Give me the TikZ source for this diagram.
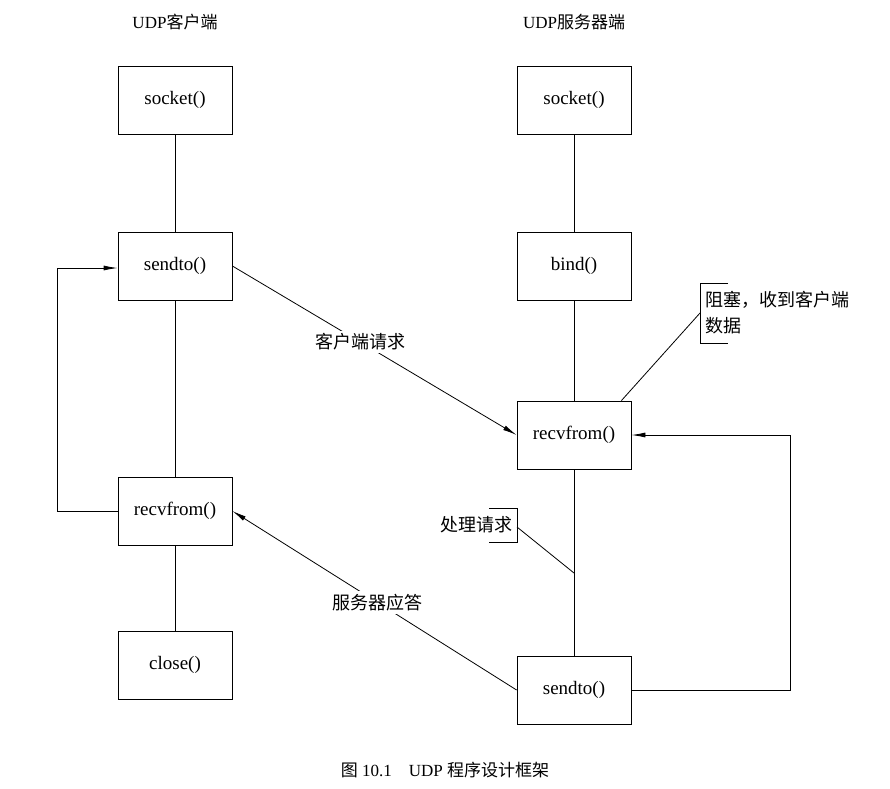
\documentclass[tikz,border=0pt]{standalone}
\usepackage{fontspec}
\usetikzlibrary{arrows.meta}
\setmainfont{Liberation Serif}
\newfontfamily\cjk{Noto Sans CJK SC}
\begin{document}
\begin{tikzpicture}[x=1pt,y=-1pt,
  box/.style={draw,line width=0.8pt,minimum width=114pt,minimum height=68pt,font=\fontsize{19}{22}\selectfont,inner sep=0pt},
  ln/.style={line width=0.8pt},
  ar/.style={ln,-{Latex[length=14pt,width=5pt]}},
  lab/.style={font=\cjk\fontsize{18}{22}\selectfont,fill=white,inner sep=3pt},
  ttl/.style={font=\fontsize{17}{20}\selectfont}]
\useasboundingbox (0,0) rectangle (890,788);
\node[ttl] (t1) at (175,22) {UDP{\cjk 客户端}};
\node[ttl] (t2) at (574,22) {UDP{\cjk 服务器端}};
\node[box] (cs) at (175,100) {socket()};
\node[box] (csend) at (175,266) {sendto()};
\node[box] (crecv) at (175,511) {recvfrom()};
\node[box] (cclose) at (175,665) {close()};
\node[box] (ss) at (574,100) {socket()};
\node[box] (sb) at (574,266) {bind()};
\node[box] (srecv) at (574,435) {recvfrom()};
\node[box] (ssend) at (574,690) {sendto()};
\draw[ln] (cs) -- (csend) (csend) -- (crecv) (crecv) -- (cclose);
\draw[ln] (ss) -- (sb) (sb) -- (srecv) (srecv) -- (ssend);
\coordinate (l1) at (57,511); \coordinate (l2) at (57,268);
\draw[ar] (crecv.west) -- (l1) -- (l2) -- (csend.west|-l2);
\coordinate (r1) at (790,690); \coordinate (r2) at (790,435);
\draw[ar] (ssend.east) -- (r1) -- (r2) -- (srecv.east);
\draw[ar] (csend.east) -- node[lab,pos=0.45] (q) {客户端请求} (srecv.west);
\draw[ar] (ssend.west) -- node[lab,pos=0.49] (a) {服务器应答} (crecv.east);
% annotations
\node[anchor=west,align=left,font=\cjk\fontsize{18}{26}\selectfont] (n1) at (702,313) {阻塞，收到客户端\\数据};
\draw[ln] (728,283) -- (700,283) -- (700,343) -- (728,343);
\coordinate (p1) at (700,313);
\draw[ln] (srecv.north east) ++(-10,0) -- (p1);
\node[anchor=east,font=\cjk\fontsize{18}{22}\selectfont,inner sep=2pt] (n2) at (515,525) {处理请求};
\draw[ln] (489,508) -- (517,508) -- (517,542) -- (489,542);
\coordinate (p2) at (517,527); \coordinate (p3) at (574,573);
\draw[ln] (p2) -- (p3);
\node[ttl] (cap) at (445,770) {{\cjk 图} 10.1\quad UDP {\cjk 程序设计框架}};
\end{tikzpicture}
\end{document}
